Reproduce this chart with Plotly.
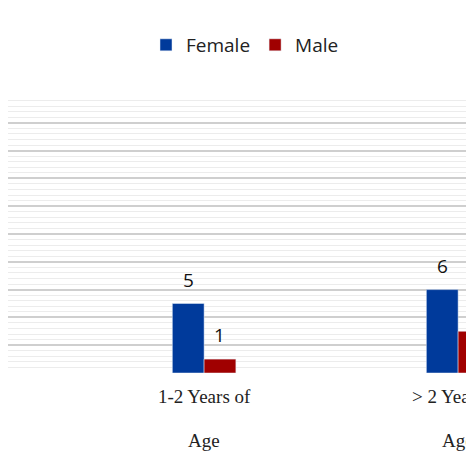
import plotly.graph_objects as go

# Age groups (only the two visible in the picture)
age_line1 = ["1-2 Years of", "> 2 Years of"]
age_line2 = ["Age", "Age"]
group_pos = [1, 2]
female = [5, 6]
male = [1, 3]

fig = go.Figure()
fig.add_trace(go.Bar(x=group_pos, y=female, name="Female", marker_color="#003a9b"))
fig.add_trace(go.Bar(x=group_pos, y=male, name="Male", marker_color="#a00000"))

annotations = []
# value labels above bars (offset of each bar within its group)
for vals, off in [(female, -0.0625), (male, 0.0625)]:
    for p, v in zip(group_pos, vals):
        annotations.append(dict(x=p + off, y=v, xref="x", yref="y", text=str(v),
                                showarrow=False, yshift=24,
                                font=dict(family="Open Sans, sans-serif", size=19, color="#111")))
# category labels
for p, a, b in zip(group_pos, age_line1, age_line2):
    annotations.append(dict(x=p, y=0, xref="x", yref="paper", text=a, showarrow=False,
                            yshift=-11, yanchor="top",
                            font=dict(family="Liberation Serif, serif", size=19, color="#222")))
    annotations.append(dict(x=p, y=0, xref="x", yref="paper", text=b, showarrow=False,
                            yshift=-55, yanchor="top",
                            font=dict(family="Liberation Serif, serif", size=19, color="#222")))

fig.update_layout(
    width=474, height=474,
    barmode="group", bargap=0.75, bargroupgap=0,
    plot_bgcolor="white", paper_bgcolor="white",
    margin=dict(l=0, r=0, t=87, b=109, autoexpand=False),
    font=dict(family="Open Sans, sans-serif", size=19, color="#222"),
    legend=dict(orientation="h", x=0.5, xanchor="center", y=1.18, yanchor="middle",
                font=dict(size=19), itemwidth=30),
    annotations=annotations,
    xaxis=dict(range=[0.228, 2.094], tickvals=group_pos, showticklabels=False,
               showgrid=False, zeroline=False, showline=False),
    yaxis=dict(range=[0, 20], dtick=2, showticklabels=False, gridcolor="#cfcfcf",
               gridwidth=1.5, zeroline=False, showline=False,
               minor=dict(dtick=0.4, showgrid=True, gridcolor="#ececec", gridwidth=1)),
)
fig.write_html("out.html")
